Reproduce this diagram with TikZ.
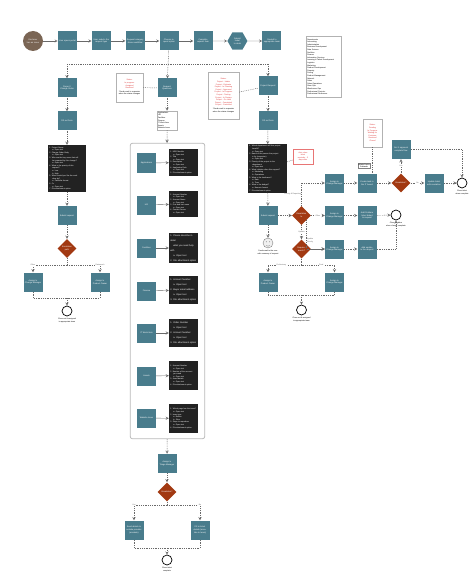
\documentclass[tikz,border=0pt]{standalone}
\usepackage{fontspec}
\setmainfont{Liberation Sans}
\usepackage{tikz}
\usetikzlibrary{shapes.geometric, arrows, positioning, fit, backgrounds}
\definecolor{flowteal}{RGB}{73,124,140}
\definecolor{flowbrown}{RGB}{122,101,84}
\definecolor{flowrust}{RGB}{162,57,18}
\definecolor{flowdark}{RGB}{34,34,34}
\definecolor{flowgray}{RGB}{105,105,105}
\definecolor{notered}{RGB}{222,58,58}
\newcommand{\boxfont}{\fontsize{2.1}{2.6}\selectfont}
\newcommand{\listfont}{\fontsize{1.9}{2.6}\selectfont}
\newcommand{\bigfont}{\fontsize{2.3}{5}\selectfont}
\newcommand{\opt}{\hspace*{3pt}}

\begin{document}
\begin{tikzpicture}[
    x=1pt, y=-1pt,
    node distance=14.5pt,
    proc/.style={rectangle, fill=flowteal, text=white,
                minimum width=19pt, minimum height=19pt, text width=17pt,
                inner sep=0pt, align=center, font=\boxfont},
    startnode/.style={circle, fill=flowbrown, text=white, minimum size=20pt,
                text width=15pt, inner sep=0pt, align=center, font=\boxfont},
    hexa/.style={regular polygon, regular polygon sides=6, fill=flowteal, text=white,
                minimum size=20pt, text width=11pt, inner sep=0pt, align=center, font=\boxfont},
    dia/.style={diamond, fill=flowrust, text=white, minimum width=19pt, minimum height=19pt,
                text width=11pt, inner sep=0pt, align=center, font=\boxfont},
    endc/.style={circle, draw=black, fill=white, line width=0.7pt, minimum size=10pt, inner sep=0pt},
    note/.style={rectangle, draw=gray!60, fill=white, line width=0.5pt,
                inner sep=1pt, align=center, font=\listfont},
    darkbox/.style={rectangle, fill=flowdark, text=white, inner sep=1.2pt,
                align=left, font=\listfont},
    tag/.style={fill=white, inner sep=0.4pt, font=\listfont, align=center},
    caption/.style={inner sep=0pt, font=\listfont, align=center},
    flowline/.style={dash pattern=on 0.9pt off 0.9pt, flowgray, line width=0.45pt},
    link/.style={->, >=stealth, dash pattern=on 0.9pt off 0.9pt, flowgray, line width=0.45pt},
    solidlink/.style={->, >=stealth, flowgray, line width=0.4pt}
]
\useasboundingbox (0,0) rectangle (474,572);

% main path
\node[startnode] (start) at (33,41) {End user has an issue};
\node[proc, right=14.5pt of start] (portal) {User opens portal};
\node[proc, right=of portal] (reqtype) {User selects the request type};
\node[proc, right=of reqtype] (category) {Request category drives workflow};
\node[proc, right=of category] (choose) {Choose request option};
\node[proc, right=of choose] (fillform) {Complete request form};
\node[hexa, right=of fillform] (submit) {Submit ticket to desk};
\node[proc, right=of submit] (routed) {Routed to appropriate team};

\draw[solidlink] (start) -- (portal);
\draw[solidlink] (portal) -- (reqtype);
\draw[solidlink] (reqtype) -- (category);
\draw[solidlink] (category) -- (choose);
\draw[solidlink] (choose) -- (fillform);
\draw[solidlink] (fillform) -- (submit);
\draw[solidlink] (submit) -- (routed);

\node[note, anchor=north west, text width=33pt, minimum height=61pt, align=left] (depts) at (306,36)
  {Departments\\Accounting\\Administration\\Business Development\\Data Science\\Facilities\\Finance\\
   Information Services\\Learning \& Talent Development\\Logistics\\Marketing\\Product Development\\
   Property\\Pricing\\Product Management\\Network\\Sales\\Sales Operations\\Store Ops\\
   Warehouse Ops\\Professional Projects\\Professional Resources};

% split to the three request kinds
\coordinate (split) at (167,64);
\node[proc] (change) at (67,88) {Project / Change Order};
\node[proc] (reqq) at (167,88) {Request Questions};
\node[proc] (projreq) at (268,86) {Project Request};

\draw[link] (choose) -- (reqq);
\draw[flowline] (change |- split) -- (projreq |- split);
\draw[link] (change |- split) -- (change);
\draw[link] (projreq |- split) -- (projreq);

\node[note, minimum width=27pt, minimum height=29pt, text width=25pt] (statusA) at (129.5,87.5)
  {\textcolor{notered}{Status:\\In progress\\Assigned\\Resolved}\\[1pt]*Send email to requester\\when the status changes};
\node[note, minimum width=31pt, minimum height=47pt, text width=29pt] (statusB) at (223.5,95.5)
  {\textcolor{notered}{Status:\\Project - Intake\\Project - Estimate\\Project - In Planning\\Project - Approved\\
   Project - In Progress\\Project - Testing\\Project - In Review\\Project - On Hold\\
   Project - Completed\\Project - Cancelled}\\[1pt]*Send email to requester\\when the status changes};
\draw[flowline] (statusA) -- (reqq);
\draw[flowline] (statusB) -- (projreq);

% left column: change order
\node[proc] (fillL) at (67,121) {Fill out form};
\node[darkbox, text width=35.5pt, minimum height=47pt] (qL) at (67,168.5)
  {1. Project Name\\\opt a. Open text\\2. Change Order Body\\\opt a. Open text\\
   3. Who are the key users that will\\\opt be impacted by this change?\\\opt a. Open text\\
   4. What is the priority of this\\\opt request?\\\opt a. Low\\\opt b. High\\
   5. When would you like the work\\\opt done by?\\\opt a. Calendar format\\
   6. Cc\\\opt a. Open text\\7. File attachment option};
\node[proc] (sendL) at (67,215.5) {Submit request};
\node[dia] (escL) at (67,248.5) {Escalation path};
\node[proc] (otherL) at (33,282) {Assign to Change Manager};
\node[proc] (dataL) at (100,282) {Assign to Product Owner};
\node[endc] (doneL) at (67,311) {};
\node[caption, below=2pt of doneL] (doneLtxt) {Close out \& assigned\\to appropriate team};

\draw[link] (change) -- (fillL);
\draw[link] (fillL) -- (qL);
\draw[link] (qL) -- (sendL);
\draw[link] (sendL) -- (escL);
\coordinate (forkL) at (67,265);
\coordinate (joinL) at (67,298);
\draw[flowline] (escL) -- (forkL);
\draw[link] (forkL) -| node[tag, pos=0.5]{Other} (otherL);
\draw[link] (forkL) -| node[tag, pos=0.5]{Datamesh} (dataL);
\draw[flowline] (otherL) |- (joinL);
\draw[flowline] (dataL) |- (joinL);
\draw[link] (joinL) -- (doneL);

% middle column: request questions
\node[note, text width=18pt, minimum height=19pt, align=left] (typelist) at (167,120.5)
  {Applications\\HR\\Facilities\\Finance\\IT Work Item\\Assets\\Website Issue};
\draw[link] (reqq) -- (typelist);

\node[proc] (apps) at (146.5,163) {Applications};
\node[proc] (hr) at (146.5,205) {HR};
\node[proc] (facil) at (146.5,248) {Facilities};
\node[proc] (fin) at (146.5,291) {Finance};
\node[proc] (itwork) at (146.5,333) {IT Work Item};
\node[proc] (assets) at (146.5,376) {Assets};
\node[proc] (web) at (146.5,418) {Website Issue};

\node[darkbox, text width=26.5pt, minimum height=27pt] (qApps) at (183.5,162.5)
  {1. MRS Module\\\opt a. Open text\\2. Title\\\opt a. Open text\\3. Description\\\opt a. Open text\\
   4. Application Role\\\opt a. Open text\\5. File attachment option};
\node[darkbox, text width=26.5pt, minimum height=26pt] (qHr) at (183.5,204)
  {1. Account Number\\\opt a. Open text\\2. Account Name\\\opt a. Open text\\
   3. First and last name\\\opt a. Open text\\4. Contact Person\\\opt a. Open text};
\node[darkbox, font=\bigfont, text width=26.5pt, minimum height=30pt] (qFacil) at (183.5,248)
  {1. Please describe in detail\\\opt what you need help with\\\opt a. Open text\\2. File attachment option};
\node[darkbox, font=\bigfont, text width=26.5pt, minimum height=28pt] (qFin) at (183.5,290)
  {1. Account Number\\\opt a. Open text\\2. Buyer email address\\\opt a. Open text\\3. File attachment option};
\node[darkbox, font=\bigfont, text width=26.5pt, minimum height=28pt] (qIt) at (183.5,333)
  {1. Order Number\\\opt a. Open text\\2. Account Number\\\opt a. Open text\\3. File attachment option};
\node[darkbox, text width=26.5pt, minimum height=29pt] (qAssets) at (183.5,375.5)
  {1. Account Number\\\opt a. Open text\\2. Number of the account\\\opt you need\\\opt a. Open text\\
   3. Asset details\\\opt a. Open text\\4. File attachment option};
\node[darkbox, text width=26.5pt, minimum height=29pt] (qWeb) at (183.5,418.5)
  {1. Which page has the issue?\\\opt a. Open text\\2. Issue type\\\opt a. Broken\\
   \opt b. Slow\\3. Steps to reproduce\\\opt a. Open text\\4. File attachment option};

\draw[solidlink] (apps) -- (qApps);
\draw[solidlink] (hr) -- (qHr);
\draw[solidlink] (facil) -- (qFacil);
\draw[solidlink] (fin) -- (qFin);
\draw[solidlink] (itwork) -- (qIt);
\draw[solidlink] (assets) -- (qAssets);
\draw[solidlink] (web) -- (qWeb);

\begin{scope}[on background layer]
\node[draw=gray!55, line width=0.8pt, rounded corners=2pt, inner xsep=6.5pt, inner ysep=5.5pt,
      fit=(apps) (qApps) (qWeb)] (panel) {};
\end{scope}
\draw[link] (typelist) -- (panel);

\node[proc] (triage) at (167,463.5) {Assign to Triage Manager};
\node[dia] (escM) at (167,492) {Escalation?};
\node[proc] (outside) at (134,530) {Send details to outside provider (escalate)};
\node[proc] (fixM) at (200,530) {Fill in ticket details (escalate to team)};
\node[endc] (doneM) at (167,560) {};
\node[caption, below=2pt of doneM] (doneMtxt) {Close ticket\\complete};

\draw[link] (panel) -- (triage);
\draw[link] (triage) -- (escM);
\coordinate (forkM) at (167,505);
\coordinate (joinM) at (167,548);
\draw[flowline] (escM) -- (forkM);
\draw[link] (forkM) -| node[tag, pos=0.5]{Yes} (outside);
\draw[link] (forkM) -| node[tag, pos=0.5]{No} (fixM);
\draw[flowline] (outside) |- (joinM);
\draw[flowline] (fixM) |- (joinM);
\draw[link] (joinM) -- (doneM);

% right column: project request
\node[proc] (fillR) at (268,121) {Fill out form};
\node[darkbox, text width=36.5pt, minimum height=47pt] (qR) at (267.5,168.5)
  {1. Which department will this project\\\opt benefit?\\\opt a. Open text\\
   2. Name of the person the project\\\opt is for (requester)\\\opt a. Open text\\
   3. Priority of the project to the\\\opt department\\\opt a. Open text\\
   4. What initiative does this support?\\\opt a. Marketing\\\opt b. Operations\\
   5. What is the timeframe?\\\opt a. Date\\\opt b. Time\\
   6. What is the budget?\\\opt a. Numeric format\\7. File attachment option};
\node[note, draw=notered!70, line width=0.6pt, text=notered, minimum width=20pt, minimum height=15pt, text width=18pt] (autoclose) at (303,156.5)
  {Auto close\\ticket\\reminder - 3\\days after};
\node[proc] (sendR) at (268,215.5) {Submit request};
\node[dia] (escR) at (301.5,215.5) {Escalation to};

\draw[link] (projreq) -- (fillR);
\draw[link] (fillR) -- (qR);
\draw[flowline] (qR) -- (autoclose);
\draw[link] (qR) -- (sendR);
\draw[link] (sendR) -- (escR);

% face for email to user
\node[circle, draw=gray, fill=gray!12, line width=0.4pt, minimum size=10pt, inner sep=0pt] (mailuser) at (268,243) {};
\fill[gray] (mailuser.center) ++(-1.6,-1.2) circle (0.5) ++(3.2,0) circle (0.5);
\draw[gray, line width=0.3pt] (mailuser.center) ++(-1.8,2.4) arc (180:360:1.8 and -0.8);
\node[caption, below=2pt of mailuser] (mailtxt) {Send email to the user\\with summary of request};
\draw[link] (sendR) -- (mailuser);

% escalation: other
\node[proc] (assignA) at (334.5,215.5) {Assign to Change Manager};
\node[proc] (problem) at (367,215.5) {Add Problem ticket linked to request};
\node[endc] (doneR1) at (396,215) {};
\node[caption, below=1.5pt of doneR1] (doneR1txt) {Close problem\\when change complete};
\draw[link] (escR) -- node[tag]{Other} (assignA);
\draw[link] (assignA) -- (problem);
\draw[link] (problem) -- (doneR1);

% escalation: priority
\node[proc] (assignB) at (334.5,183) {Assign to Change Manager};
\node[proc] (task) at (367,183) {Create task in the IT board};
\node[dia] (decide) at (401,183) {Escalation?};
\node[proc] (approve) at (401,149.5) {Get 1 approval complete flow};
\node[proc] (notify) at (434,183) {Update ticket with resolution};
\node[endc] (doneR2) at (462,183) {};
\node[caption, below=2pt of doneR2] (doneR2txt) {Close ticket\\when complete};
\node[note, text=notered, minimum width=19pt, minimum height=28pt, text width=17pt] (statusC) at (372.5,133)
  {Status:\\Pending\\In Progress\\Waiting for\\Customer\\Resolved\\Closed};
\node[note, draw=gray, font=\listfont, inner sep=0.5pt] (subtasks) at (364,166) {Related tasks\\Subtasks};

\draw[link] (escR) |- node[tag, pos=0.25, left]{Priority \& Reporting} (assignB);
\draw[link] (assignB) -- (task);
\draw[link] (task) -- (decide);
\draw[link] (decide) -- node[tag]{Yes} (approve);
\draw[link] (decide) -- node[tag]{No} (notify);
\draw[link] (notify) -- (doneR2);
\draw[link] (approve) -| (doneR2);
\draw[flowline] (statusC) -- (statusC |- task.north);

% escalation: requirements
\node[dia] (reqs) at (301.5,249) {Require-ments?};
\node[proc] (assignC) at (334.5,249) {Assign to Change Manager};
\node[proc] (update) at (367,249) {Add update to the request};
\node[proc] (prelim) at (268,282) {Assign to Product Owner};
\node[proc] (final) at (334.5,282) {Assign to Change Manager};
\node[endc] (doneR3) at (301.5,310) {};
\node[caption, below=2pt of doneR3] (doneR3txt) {Close out \& assigned\\to appropriate team};

\draw[link] (escR) -- node[tag]{Update} (reqs);
\draw[link] (escR.south east) |- node[tag, pos=0.35, right]{Update\\Priority} (assignC);
\draw[link] (reqs) -- (assignC);
\draw[link] (assignC) -- (update);
\draw[link] (update) -| (doneR1);
\coordinate (forkR) at (301.5,265);
\coordinate (joinR) at (301.5,295);
\draw[flowline] (reqs) -- (forkR);
\draw[link] (forkR) -| node[tag, pos=0.3]{Preliminary} (prelim);
\draw[link] (forkR) -| node[tag, pos=0.3]{Final} (final);
\draw[flowline] (prelim) |- (joinR);
\draw[flowline] (final) |- (joinR);
\draw[link] (joinR) -- (doneR3);

\end{tikzpicture}
\end{document}
